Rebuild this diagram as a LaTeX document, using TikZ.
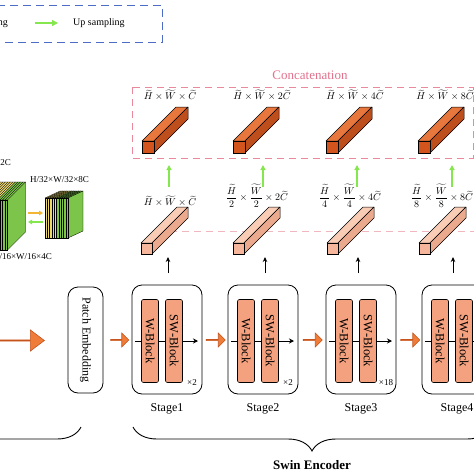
\documentclass[tikz,border=0pt]{standalone}
\usepackage{fontspec}
\setmainfont{Liberation Serif}
\usepackage{amsmath}
\usetikzlibrary{decorations.pathreplacing,arrows.meta,shapes.arrows}
\definecolor{wfill}{HTML}{F4A17F}
\definecolor{ofill}{HTML}{F07C3A}
\definecolor{oline}{HTML}{C4531C}
\definecolor{lfront}{HTML}{F5B69B}
\definecolor{ltop}{HTML}{F9CCB6}
\definecolor{lside}{HTML}{EBA98D}
\definecolor{dfront}{HTML}{D4541E}
\definecolor{dtop}{HTML}{E8773D}
\definecolor{dside}{HTML}{BF4E1D}
\definecolor{upg}{HTML}{86E64E}
\definecolor{legblue}{HTML}{4D6CC6}
\definecolor{cpink}{HTML}{E2718C}
\definecolor{dashpink}{HTML}{E98A9C}
\definecolor{lightpink}{HTML}{F2B7BE}
\definecolor{fy}{HTML}{EBD873}
\definecolor{fg}{HTML}{7CC44A}
\definecolor{arry}{HTML}{F2B534}
\newcommand\cub[5]{%
  \filldraw[fill=#5top, line width=0.5pt, line join=round] (#1,#2) -- ({#1+#3},#2) -- ({#1+#3+#4},{#2-#4}) -- ({#1+#4},{#2-#4}) -- cycle;
  \filldraw[fill=#5side, line width=0.5pt, line join=round] ({#1+#3},#2) -- ({#1+#3},{#2+#3}) -- ({#1+#3+#4},{#2+#3-#4}) -- ({#1+#3+#4},{#2-#4}) -- cycle;
  \filldraw[fill=#5front, line width=0.5pt] (#1,#2) rectangle ({#1+#3},{#2+#3});}
\newcommand\slab[7]{%
  \filldraw[fill=#7, line width=0.3pt, line join=round] (#1,#2) -- ({#1+#3},#2) -- ({#1+#3+#5},{#2+#6}) -- ({#1+#5},{#2+#6}) -- cycle;
  \filldraw[fill=#7, line width=0.3pt, line join=round] ({#1+#3},#2) -- ({#1+#3},{#2+#4}) -- ({#1+#3+#5},{#2+#4+#6}) -- ({#1+#3+#5},{#2+#6}) -- cycle;
  \filldraw[fill=#7, line width=0.3pt] (#1,#2) rectangle ({#1+#3},{#2+#4});}
\newcommand\mkstage[4]{%
  \node[stagebox] (#1) at ({#2+35},339.5) {};
  \coordinate (#1in) at ({#2+3},341);
  \coordinate (#1out) at ({#2+66},341);
  \draw[-{Stealth[length=5pt,width=5pt]}, line width=0.8pt] (#1in) -- (#1out);
  \node[blk] (#1w) at ({#2+18},341) {W-Block};
  \node[blk] (#1sw) at ({#2+42},341) {SW-Block};
  \node[font=\fontsize{9}{9}\selectfont, inner sep=0] (#1rep) at ({#2+60},383) {#3};
  \node[stagelab] (#1lab) at ({#2+35},409) {#4};}
\begin{document}
\begin{tikzpicture}[x=1pt,y=-1pt,
  stagebox/.style={draw, line width=0.8pt, rounded corners=10pt, minimum width=70pt, minimum height=109pt, inner sep=0},
  blk/.style={draw, fill=wfill, line width=0.6pt, rounded corners=2pt, rotate=-90, minimum width=83pt, minimum height=17pt, inner sep=0, font=\fontsize{12.5}{13}\selectfont},
  stagelab/.style={font=\fontsize{12}{14}\selectfont, inner sep=0},
  fat/.style={single arrow, draw=oline, fill=ofill, line width=0.6pt, inner sep=0, minimum width=14pt, single arrow head extend=3.5pt, single arrow tip angle=90},
  mlab/.style={font=\fontsize{10}{12}\selectfont, inner sep=0},
  dimlab/.style={font=\fontsize{9}{11}\selectfont, inner sep=0},
  uparr/.style={-{Triangle[length=5pt,width=5pt]}, upg, line width=1.6pt},
  blkarr/.style={-{Stealth[length=5pt,width=4.5pt]}, line width=0.9pt}]
\useasboundingbox (0,0) rectangle (474,474);
\clip (0,0) rectangle (474,474);
% legend
\draw[legblue, line width=1pt, dash pattern=on 8pt off 5pt] (-10,5) rectangle (162,42);
\node[mlab, anchor=east] (ldown) at (8,23) {Down sampling};
\coordinate (lg1) at (35,23); \coordinate (lg2) at (58,23);
\draw[-{Triangle[length=6pt,width=6pt]}, upg, line width=2pt] (lg1) -- (lg2);
\node[mlab, anchor=west] (lup) at (73,23) {Up sampling};
% left feature maps
\foreach \i in {0,...,18} {
  \pgfmathsetmacro\xx{-40+\i*2.5}
  \ifdim\xx pt<-3pt \def\cc{fy}\else\def\cc{fg}\fi
  \slab{\xx}{200}{2.5}{50}{18}{-18}{\cc}
}
\foreach \i in {0,...,9} {
  \pgfmathsetmacro\xx{45+\i*2.3}
  \ifnum\i<5 \def\cc{fy}\else\def\cc{fg}\fi
  \slab{\xx}{198}{2.3}{40}{15}{-7}{\cc}
}
\node[dimlab, anchor=east] (d8) at (11,163) {H/8×W/8×2C};
\node[dimlab, anchor=west] (d32) at (30,180) {H/32×W/32×8C};
\node[dimlab, anchor=east] (d16) at (52,257) {H/16×W/16×4C};
\coordinate (ya) at (28,213); \coordinate (yb) at (43,213);
\draw[-{Triangle[length=4pt,width=4.5pt]}, arry, line width=1.4pt] (ya) -- (yb);
\coordinate (ga) at (43,222); \coordinate (gb) at (28,222);
\draw[-{Triangle[length=4pt,width=4.5pt]}, upg, line width=1.4pt] (ga) -- (gb);
% big input arrow
\node[single arrow, draw=oline, fill=ofill, line width=0.6pt, inner sep=0, minimum height=54pt, minimum width=21pt, single arrow head extend=5.5pt, single arrow tip angle=74] (bigarr) at (17,340.5) {};
% patch embedding
\node[draw, line width=0.8pt, rounded corners=10pt, rotate=-90, minimum width=106pt, minimum height=35pt, inner sep=0, font=\fontsize{12}{14}\selectfont] (pe) at (85.5,340) {Patch Embedding};
% stages
\mkstage{sa}{132}{×2}{Stage1}
\mkstage{sb}{228}{×2}{Stage2}
\mkstage{sc}{326}{×18}{Stage3}
\mkstage{sd}{422}{×2}{Stage4}
\node[fat, minimum height=18pt] (fa) at (119.5,340) {};
\node[fat, minimum height=19pt] (fb) at (215.5,340) {};
\node[fat, minimum height=19pt] (fc) at (312.5,340) {};
\node[fat, minimum height=19pt] (fd) at (410,340) {};
% lower bars
\draw[lightpink, line width=0.8pt, dash pattern=on 7pt off 5pt] (170,231) -- (480,231);
\cub{141}{243}{11}{36}{l}
\cub{233}{243}{11}{36}{l}
\cub{327}{243}{11}{36}{l}
\cub{419}{243}{11}{36}{l}
\node[mlab] (la) at (170,201) {$\widetilde{H}\times\widetilde{W}\times\widetilde{C}$};
\node[mlab] (lb) at (257,196) {$\dfrac{\widetilde{H}}{2}\times\dfrac{\widetilde{W}}{2}\times 2\widetilde{C}$};
\node[mlab] (lc) at (350,196) {$\dfrac{\widetilde{H}}{4}\times\dfrac{\widetilde{W}}{4}\times 4\widetilde{C}$};
\node[mlab] (ld) at (442,196) {$\dfrac{\widetilde{H}}{8}\times\dfrac{\widetilde{W}}{8}\times 8\widetilde{C}$};
% black arrows
\foreach \n/\x in {ka/168,kb/265,kc/358,kd/453} {
  \coordinate (\n1) at (\x,273); \coordinate (\n2) at (\x,257);
  \draw[blkarr] (\n1) -- (\n2);
}
% green arrows
\foreach \n/\x in {ua/169,ub/263,uc/357,ud/452} {
  \coordinate (\n1) at (\x,187); \coordinate (\n2) at (\x,165);
  \draw[uparr] (\n1) -- (\n2);
}
% concatenation
\draw[dashpink, line width=1pt, dash pattern=on 7pt off 5pt] (132,87) rectangle (473,158);
\node[font=\fontsize{13}{15}\selectfont, text=cpink, inner sep=0] (concat) at (310,75) {Concatenation};
\cub{142}{141}{12}{34}{d}
\cub{233}{141}{12}{34}{d}
\cub{326}{141}{12}{34}{d}
\cub{418}{141}{12}{34}{d}
\node[mlab] (ua) at (170,95) {$\widetilde{H}\times\widetilde{W}\times\widetilde{C}$};
\node[mlab] (ub) at (262,95) {$\widetilde{H}\times\widetilde{W}\times 2\widetilde{C}$};
\node[mlab] (uc) at (355,95) {$\widetilde{H}\times\widetilde{W}\times 4\widetilde{C}$};
\node[mlab] (ud) at (445,95) {$\widetilde{H}\times\widetilde{W}\times 8\widetilde{C}$};
% braces
\coordinate (bl1) at (-150,427); \coordinate (bl2) at (81,427);
\draw[line width=0.9pt, decorate, decoration={brace, amplitude=24pt, mirror}] (bl1) -- (bl2);
\coordinate (br1) at (133,427); \coordinate (br2) at (491,427);
\draw[line width=0.9pt, decorate, decoration={brace, amplitude=24pt, mirror}] (br1) -- (br2);
\node[font=\bfseries\fontsize{13}{15}\selectfont, inner sep=0] (swin) at (312,465) {Swin Encoder};
\end{tikzpicture}
\end{document}
